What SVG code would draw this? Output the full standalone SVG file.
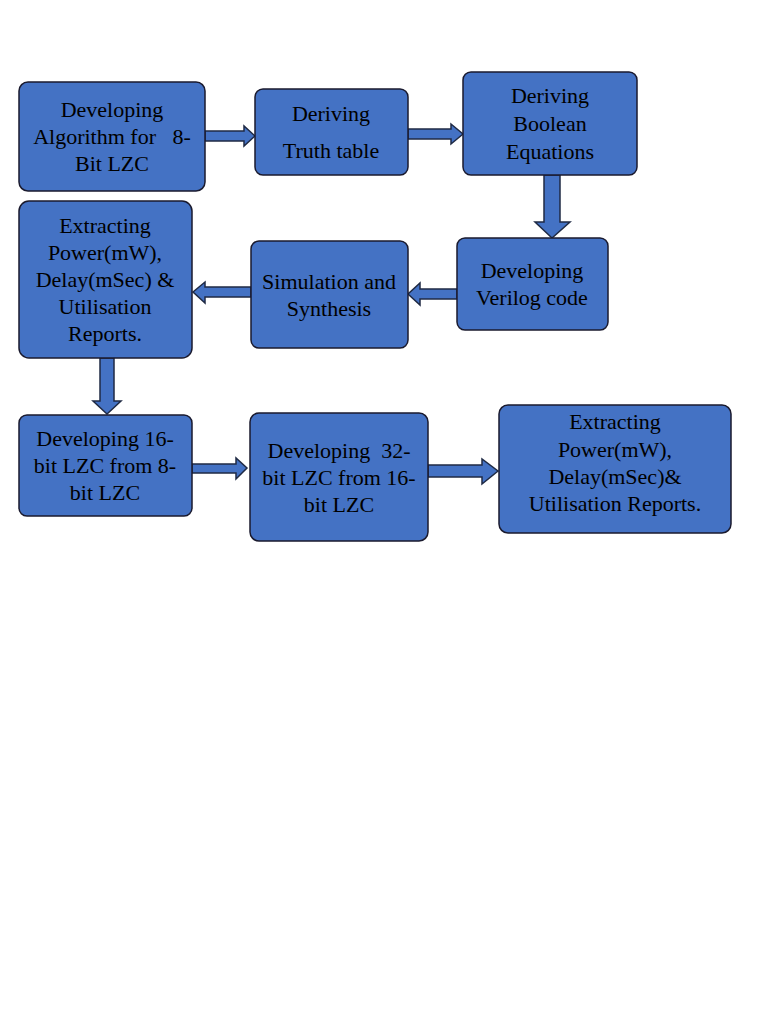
<svg xmlns="http://www.w3.org/2000/svg" width="768" height="1024" viewBox="0 0 768 1024">
<style>
.b{fill:#4472C4;stroke:#1a1a2e;stroke-width:1.5}
.a{fill:#4472C4;stroke:#1f2a44;stroke-width:1.5}
text{font-family:"Liberation Serif",serif;font-size:22px;fill:#000;text-anchor:middle}
</style>
<rect width="768" height="1024" fill="#fff"/>
<g id="connectors">
<polygon class="a" points="205,131 244,131 244,126 255,136 244,146 244,141 205,141"/>
<polygon class="a" points="408,129 451,129 451,124 463,134 451,144 451,139 408,139"/>
<polygon class="a" points="544,175 560,175 560,222 570,222 552,238 535,222 544,222"/>
<polygon class="a" points="457,289 420,289 420,283 408,294 420,305 420,299 457,299"/>
<polygon class="a" points="251,287 205,287 205,282 193,292 205,303 205,297 251,297"/>
<polygon class="a" points="100,358 114,358 114,401 121,401 107,414 93,401 100,401"/>
<polygon class="a" points="192,464 236,464 236,458 247,468 236,479 236,473 192,473"/>
<polygon class="a" points="428,465 482,465 482,459 498,471 482,484 482,477 428,477"/>
</g>
<g id="n1"><rect class="b" x="19" y="82" width="186" height="109" rx="9"/><text x="112" y="117">Developing</text><text x="112" y="144" xml:space="preserve">Algorithm for   8-</text><text x="112" y="171">Bit LZC</text></g>
<g id="n2"><rect class="b" x="255" y="89" width="153" height="86" rx="8"/><text x="331" y="121">Deriving</text><text x="331" y="158">Truth table</text></g>
<g id="n3"><rect class="b" x="463" y="72" width="174" height="103" rx="8"/><text x="550" y="103">Deriving</text><text x="550" y="131">Boolean</text><text x="550" y="159">Equations</text></g>
<g id="n4"><rect class="b" x="457" y="238" width="151" height="92" rx="8"/><text x="532" y="278">Developing</text><text x="532" y="305">Verilog code</text></g>
<g id="n5"><rect class="b" x="251" y="241" width="157" height="107" rx="8"/><text x="329" y="289">Simulation and</text><text x="329" y="316">Synthesis</text></g>
<g id="n6"><rect class="b" x="19" y="201" width="173" height="157" rx="10"/><text x="105" y="233">Extracting</text><text x="105" y="260">Power(mW),</text><text x="105" y="287">Delay(mSec) &amp;</text><text x="105" y="314">Utilisation</text><text x="105" y="341">Reports.</text></g>
<g id="n7"><rect class="b" x="19" y="415" width="173" height="101" rx="8"/><text x="105" y="446">Developing 16-</text><text x="105" y="473">bit LZC from 8-</text><text x="105" y="500">bit LZC</text></g>
<g id="n8"><rect class="b" x="250" y="413" width="178" height="128" rx="9"/><text x="339" y="458" xml:space="preserve">Developing  32-</text><text x="339" y="485">bit LZC from 16-</text><text x="339" y="512">bit LZC</text></g>
<g id="n9"><rect class="b" x="499" y="405" width="232" height="128" rx="9"/><text x="615" y="429">Extracting</text><text x="615" y="457">Power(mW),</text><text x="615" y="484">Delay(mSec)&amp;</text><text x="615" y="511">Utilisation Reports.</text></g>
</svg>
